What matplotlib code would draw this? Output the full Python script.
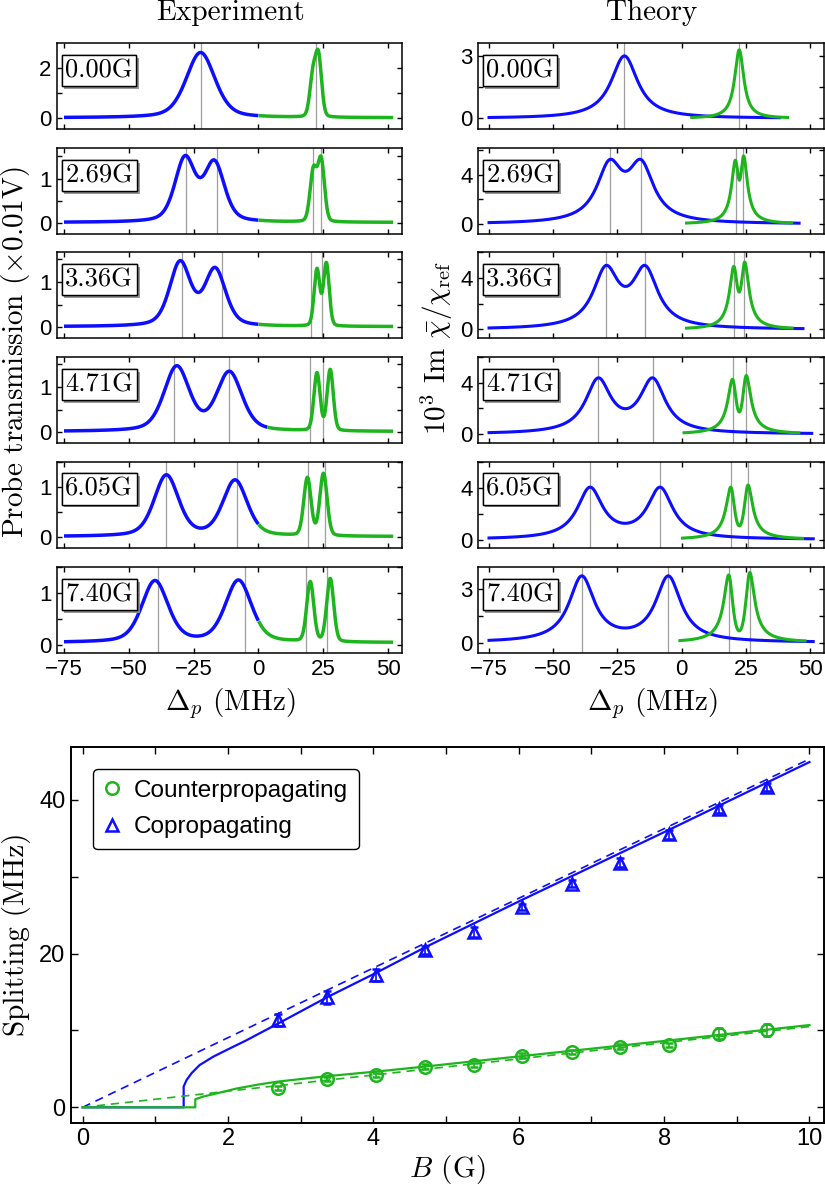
import numpy as np
import matplotlib
matplotlib.use('Agg')
import matplotlib.pyplot as plt
from matplotlib import patheffects
from matplotlib.lines import Line2D

plt.rcParams['font.family'] = 'Liberation Sans'
plt.rcParams['mathtext.fontset'] = 'cm'
plt.rcParams['axes.formatter.use_mathtext'] = False

BLUE = '#0d0dff'
GREEN = '#1db41d'
SERIF = 'cmr10'

fields = ['0.00G', '2.69G', '3.36G', '4.71G', '6.05G', '7.40G']

# positions of the grey marker lines (MHz), blue pair then green pair
line_pos = [[-22.3, 22.4],
            [-28.1, -15.8, 21.0, 24.0],
            [-29.5, -14.2, 20.4, 24.4],
            [-32.5, -11.3, 19.9, 25.0],
            [-35.7, -8.4, 19.2, 25.7],
            [-38.9, -5.2, 18.4, 26.4]]

# experiment: peak centres / heights / half widths
exp_blue_c = [[-22.3], [-28.3, -17.0], [-30.2, -16.7], [-31.5, -11.2], [-35.5, -9.0], [-39.9, -7.7]]
exp_blue_h = [[2.62], [1.52, 1.42], [1.47, 1.32], [1.46, 1.34], [1.24, 1.14], [1.24, 1.25]]
exp_blue_w = [6.6, 4.6, 4.8, 5.8, 5.6, 6.0]
exp_green_c = [[21.0, 23.2], [21.2, 24.2], [22.6, 26.2], [22.6, 27.7], [18.9, 25.1], [20.0, 27.7]]
exp_green_h = [[2.05, 2.68], [1.28, 1.50], [1.30, 1.43], [1.31, 1.38], [1.19, 1.27], [1.22, 1.28]]
exp_green_w = [1.4, 1.5, 1.3, 1.4, 1.65, 1.6]
exp_base = [0.0, 0.01, 0.01, 0.02, 0.01, 0.04]
exp_split = [0.0, 0.0, 0.0, 3.5, 0.0, 0.0]
exp_ylim = [(-0.45, 3.0), (-0.25, 1.69), (-0.24, 1.66), (-0.23, 1.65), (-0.21, 1.43), (-0.16, 1.39)]

# theory: peak heights, widths and plotted ranges
th_blue_h = [[3.0], [5.24, 5.24], [4.96, 4.96], [4.38, 4.38], [4.04, 4.04], [3.77, 3.77]]
th_blue_w = [6.3, 6.0, 6.0, 6.0, 6.0, 6.0]
th_blue_end = [38.0, 45.7, 47.2, 50.6, 51.2, 51.2]
th_green_h = [[3.29, 3.29], [5.19, 5.54], [4.89, 5.22], [4.27, 4.56], [4.04, 4.20], [3.82, 3.96]]
th_green_gam = [2.15, 2.2, 2.5, 3.0, 3.2, 3.5]
th_green_gam2 = [1.0, 1.0, 1.15, 0.95, 0.85, 0.75]
th_green_start = [3.9, 1.9, 1.9, 0.9, 0.3, -0.7]
th_green_end = [41.2, 42.8, 43.0, 45.6, 47.0, 48.0]
th_ylim = [(-0.51, 3.62), (-0.81, 6.18), (-0.66, 5.88), (-0.69, 5.1), (-0.63, 4.74), (-0.59, 4.27)]

# splitting vs field
B_pts = [2.69, 3.36, 4.04, 4.71, 5.38, 6.05, 6.73, 7.40, 8.07, 8.75, 9.42]
co_split = [11.4, 14.3, 17.2, 20.5, 22.8, 26.0, 29.1, 31.8, 35.5, 38.8, 41.7]
co_err = [0.8, 0.8, 0.8, 0.5, 0.6, 0.4, 0.5, 0.6, 0.6, 0.5, 0.5]
counter_split = [2.5, 3.7, 4.2, 5.3, 5.5, 6.7, 7.2, 7.9, 8.1, 9.6, 10.1]
counter_err = [0.3, 0.3, 0.3, 0.3, 0.3, 0.3, 0.3, 0.3, 0.3, 0.7, 0.8]
co_fit_B = [0, 1.39, 1.39, 1.43, 1.50, 1.61, 1.80, 1.98, 2.26, 2.69, 3.36, 4.04, 4.71, 6.05, 8.07, 10.0]
co_fit_S = [0, 0, 2.7, 3.55, 4.45, 5.5, 6.6, 7.45, 8.75, 10.9, 14.3, 17.5, 20.8, 27.0, 36.1, 44.9]
counter_fit_B = [0, 1.55, 1.55, 1.66, 1.84, 2.12, 2.44, 2.69, 3.36, 4.04, 4.71, 6.05, 8.07, 10.0]
counter_fit_S = [0, 0, 1.05, 1.4, 1.8, 2.45, 3.0, 3.35, 4.05, 4.65, 5.3, 6.67, 8.7, 10.7]
co_lin = [0, 45.3]
counter_lin = [0, 10.5]


def pv(x, c, w, eta):
    u = ((x - c) / w) ** 2
    return eta / (1 + u) + (1 - eta) * np.exp(-np.log(2) * u)


def peak_sum(x, cs, hs, ws, etas, base):
    cs = np.asarray(cs, float)
    M = np.array([[pv(ci, cj, wj, ej) for cj, wj, ej in zip(cs, ws, etas)] for ci in cs])
    amp = np.linalg.solve(M, np.asarray(hs, float) - base)
    y = np.full_like(x, base)
    for a, c, w, e in zip(amp, cs, ws, etas):
        y += a * pv(x, c, w, e)
    return y


def doublet(x, c1, c2, h1, h2, gam, gam2):
    mid = (c1 + c2) / 2
    half = (c2 - c1) / 2
    d = x - mid
    s = np.real(1 / (gam - 1j * d + half ** 2 / (gam2 - 1j * d)))
    xx = np.linspace(mid, mid + half + 3, 2000) - mid
    s_pk = np.real(1 / (gam - 1j * xx + half ** 2 / (gam2 - 1j * xx))).max()
    wgt = h1 + (h2 - h1) * np.clip((x - c1) / max(c2 - c1, 1e-9), 0, 1)
    return s / s_pk * wgt


W, H = 825, 1188
fig = plt.figure(figsize=(W / 100, H / 100), dpi=100)


def px_axes(x0, y0, x1, y1):
    return fig.add_axes([x0 / W, 1 - y1 / H, (x1 - x0) / W, (y1 - y0) / H])


def style(ax, lw=1.1, tl=3.5, fs=16):
    for s in ax.spines.values():
        s.set_linewidth(lw)
    ax.tick_params(which='both', direction='in', top=True, right=True,
                   length=tl, width=1.0, labelsize=fs, pad=4)


def field_box(ax, txt):
    t = ax.text(0.024, 0.82, txt, transform=ax.transAxes, ha='left', va='top',
                fontsize=19, family=SERIF,
                bbox=dict(boxstyle='square,pad=0.14', fc='white', ec='black', lw=1.0))
    t.get_bbox_patch().set_path_effects(
        [patheffects.withSimplePatchShadow(offset=(2, -2), shadow_rgbFace='0.55', alpha=0.9),
         patheffects.Normal()])


tops = [43, 148, 252, 357, 461.7, 567]
x_exp = np.linspace(-75, 52, 1500)

for i in range(6):
    top = tops[i]
    # ---------- experiment ----------
    ax = px_axes(57, top, 402, top + 86)
    cs = exp_blue_c[i] + exp_green_c[i]
    hs = exp_blue_h[i] + exp_green_h[i]
    ws = [exp_blue_w[i]] * len(exp_blue_c[i]) + [exp_green_w[i]] * len(exp_green_c[i])
    etas = [0.4] * len(exp_blue_c[i]) + [0.15] * len(exp_green_c[i])
    y = peak_sum(x_exp, cs, hs, ws, etas, exp_base[i])
    for lp in line_pos[i]:
        ax.axvline(lp, color='0.62', lw=0.9, zorder=0)
    m = x_exp <= exp_split[i]
    ax.plot(x_exp[m], y[m], color=BLUE, lw=2.5, solid_capstyle='butt')
    ax.plot(x_exp[~m], y[~m], color=GREEN, lw=2.5, solid_capstyle='butt')
    ax.set_xlim(-77.7, 55.4)
    ax.set_ylim(*exp_ylim[i])
    ax.set_xticks([-75, -50, -25, 0, 25, 50])
    if i == 0:
        ax.set_yticks([0, 2])
        ax.set_yticks([1], minor=True)
    else:
        ax.set_yticks([0, 1])
        ax.set_yticks([0.5, 1.5], minor=True)
    style(ax)
    if i < 5:
        ax.tick_params(labelbottom=False)
    field_box(ax, fields[i])

    # ---------- theory ----------
    ax = px_axes(478, top, 824, top + 86)
    for lp in line_pos[i]:
        ax.axvline(lp, color='0.62', lw=0.9, zorder=0)
    nb = len(th_blue_h[i])
    bc = line_pos[i][:nb]
    gc = line_pos[i][nb:]
    xb = np.linspace(-75, th_blue_end[i], 1200)
    yb = peak_sum(xb, bc, th_blue_h[i], [th_blue_w[i]] * nb, [1.0] * nb, 0.0)
    ax.plot(xb, yb, color=BLUE, lw=2.2)
    xg = np.linspace(th_green_start[i], th_green_end[i], 1200)
    yg = doublet(xg, gc[0], gc[-1], th_green_h[i][0], th_green_h[i][1],
                 th_green_gam[i], th_green_gam2[i])
    ax.plot(xg, yg, color=GREEN, lw=2.2)
    ax.set_xlim(-79.3, 55.4)
    ax.set_ylim(*th_ylim[i])
    ax.set_xticks([-75, -50, -25, 0, 25, 50])
    if i in (0, 5):
        ax.set_yticks([0, 3])
        ax.set_yticks([1.5], minor=True)
    else:
        ax.set_yticks([0, 4])
        ax.set_yticks([2, 6], minor=True)
    style(ax)
    if i < 5:
        ax.tick_params(labelbottom=False)
    field_box(ax, fields[i])

fig.text(230 / W, 1 - 13 / H, 'Experiment', fontsize=21, family=SERIF, ha='center', va='center')
fig.text(652 / W, 1 - 13 / H, 'Theory', fontsize=21, family=SERIF, ha='center', va='center')
fig.text(230 / W, 1 - 704 / H, r'$\Delta_p$ (MHz)', fontsize=21, family=SERIF, ha='center', va='center')
fig.text(652 / W, 1 - 704 / H, r'$\Delta_p$ (MHz)', fontsize=21, family=SERIF, ha='center', va='center')
fig.text(16 / W, 1 - 352 / H, r'Probe transmission ($\times$0.01V)', fontsize=21, family=SERIF,
         rotation=90, ha='center', va='center')
fig.text(437 / W, 1 - 348 / H, r'$10^3$ Im $\bar{\chi}/\chi_{\rm ref}$', fontsize=21, family=SERIF,
         rotation=90, ha='center', va='center')

# ---------- splitting panel ----------
ax = px_axes(71, 746.7, 824, 1122.7)
ax.plot(co_fit_B, co_fit_S, color=BLUE, lw=1.6)
ax.plot([0, 10], co_lin, color=BLUE, lw=1.2, dashes=(5, 3.5))
ax.plot(counter_fit_B, counter_fit_S, color=GREEN, lw=1.6)
ax.plot([0, 10], counter_lin, color=GREEN, lw=1.2, dashes=(5, 3.5))
ax.errorbar(B_pts, counter_split, yerr=counter_err, fmt='o', ms=9, mfc='none', mec=GREEN,
            mew=1.8, ecolor=GREEN, elinewidth=1.2, capsize=3, zorder=5)
ax.errorbar(B_pts, co_split, yerr=co_err, fmt='^', ms=9, mfc='none', mec=BLUE,
            mew=1.8, ecolor=BLUE, elinewidth=1.2, capsize=3, zorder=5)
ax.set_xlim(-0.16, 10.2)
ax.set_ylim(-2.0, 46.9)
ax.set_xticks([0, 2, 4, 6, 8, 10])
ax.set_xticks([1, 3, 5, 7, 9], minor=True)
ax.set_yticks([0, 20, 40])
ax.set_yticks([10, 30], minor=True)
style(ax, lw=1.4, tl=5, fs=17)
ax.set_xlabel(r'$B$ (G)', fontsize=21, family=SERIF, labelpad=2)
ax.set_ylabel('Splitting (MHz)', fontsize=21, family=SERIF, labelpad=6)

handles = [Line2D([], [], ls='none', marker='o', ms=9, mfc='none', mec=GREEN, mew=1.8),
           Line2D([], [], ls='none', marker='^', ms=9, mfc='none', mec=BLUE, mew=1.8)]
leg = ax.legend(handles, ['Counterpropagating', 'Copropagating'], loc='upper left',
                bbox_to_anchor=(0.029, 0.941), borderaxespad=0, fontsize=17.5,
                handlelength=0.7, handletextpad=0.55, labelspacing=0.6,
                borderpad=0.45, fancybox=True, framealpha=1)
leg.get_frame().set_edgecolor('black')
leg.get_frame().set_linewidth(1.0)

fig.savefig('out.png', dpi=100)
